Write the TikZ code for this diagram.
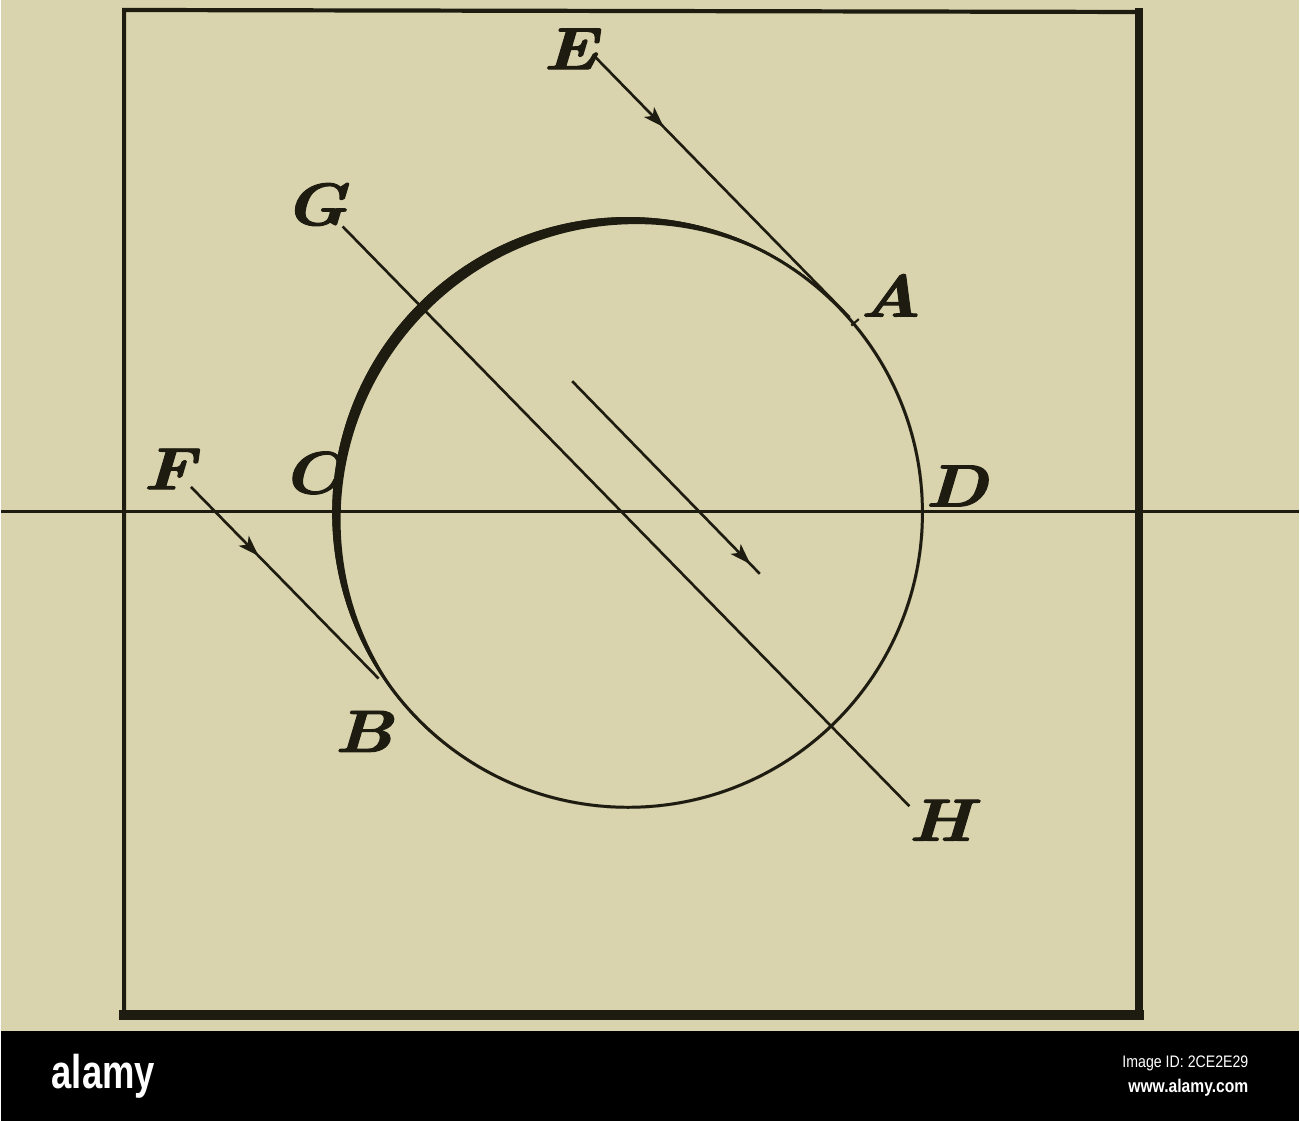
\documentclass[tikz,border=0pt]{standalone}
\usepackage{fontspec}
\newfontfamily\barfont{Liberation Sans}
\newfontfamily\lblfont{lmroman10-bolditalic.otf}[FakeBold=1.6]
\usetikzlibrary{arrows.meta,decorations.markings}
\definecolor{paper}{RGB}{218,212,174}
\definecolor{ink}{RGB}{30,28,16}
\newcommand{\lbltext}[1]{\scalebox{1.2}[1]{#1}}
\begin{document}
\begin{tikzpicture}[x=0.02cm,y=-0.02cm,
  lbl/.style={font=\lblfont\fontsize{34}{34}\selectfont, text=ink, inner sep=0pt},
  ray/.style={draw=ink, line width=1.5pt},
  midarrow/.style={decoration={markings, mark=at position #1 with {\arrow{Stealth[length=12pt,width=8pt,inset=3pt]}}}, postaction={decorate}},
  bartext/.style={text=white, inner sep=0pt},
]
% background and bottom bar
\fill[paper] (0,0) rectangle (1300,1123);
\fill[black] (0,1033) rectangle (1300,1123);

% frame
\coordinate (TL) at (123,10);
\coordinate (TR) at (1140,12);
\coordinate (BR) at (1140,1017);
\coordinate (BL) at (123,1017);
\draw[ink, line width=2.4pt, line cap=rect] (BL) -- (TL) -- (TR);
\draw[ink, line width=4.5pt, line cap=rect] (TR) -- (BR);
\draw[ink, line width=5.5pt, line cap=rect] (BL) -- (BR);

% horizontal line
\coordinate (Lh) at (0,513);
\coordinate (Rh) at (1300,513);
\draw[ink, line width=1.6pt] (Lh) -- (Rh);

% circle with thickened left arc
\coordinate (O) at (628,514);
\coordinate (O2) at (636.4,521.1);
\draw[ink, line width=1.7pt] (O) circle (295);
\begin{scope}
  \clip (O) circle (296.5);
  \fill[ink, even odd rule] (O) circle (296.5) (O2) circle (296.5);
\end{scope}

% labels
\node[lbl] (E) at (570,49) {\lbltext{E}};
\node[lbl] (G) at (315,205) {\lbltext{G}};
\node[lbl] (A) at (891,296) {\lbltext{A}};
\node[lbl] (F) at (168,470) {\lbltext{F}};
\node[lbl] (C) at (310,474) {\lbltext{C}};
\node[lbl] (D) at (957,487) {\lbltext{D}};
\node[lbl] (B) at (363,733) {\lbltext{B}};
\node[lbl] (H) at (941,822) {\lbltext{H}};

% ray E -> A
\coordinate (Es) at (595,57);
\coordinate (Ae) at (850,318);
\draw[ray, midarrow=0.27] (Es) -- (Ae);
\coordinate (At1) at (851.7,326.2);
\coordinate (At2) at (859.3,319.8);
\draw[ink, line width=1.2pt] (At1) -- (At2);

% ray F -> B
\coordinate (Fs) at (190,488);
\coordinate (Be) at (378,680);
\draw[ray, midarrow=0.36] (Fs) -- (Be);

% line G -> H
\coordinate (Gs) at (342,227);
\coordinate (He) at (910,808);
\draw[ray] (Gs) -- (He);

% short direction arrow
\coordinate (P1) at (572,382);
\coordinate (P2) at (760,575);
\draw[ray, midarrow=0.95] (P1) -- (P2);

% bottom bar texts
\node[bartext, anchor=west] (logo) at (50,1079) {\barfont\bfseries\fontsize{27}{27}\selectfont\scalebox{0.77}[1]{alamy}};
\node[bartext, anchor=east] (imgid) at (1250,1066) {\barfont\fontsize{9.5}{10}\selectfont\scalebox{0.85}[1]{Image ID: 2CE2E29}};
\node[bartext, anchor=east] (www) at (1250,1090) {\barfont\bfseries\fontsize{10.5}{11}\selectfont\scalebox{0.85}[1]{www.alamy.com}};
\end{tikzpicture}
\end{document}
